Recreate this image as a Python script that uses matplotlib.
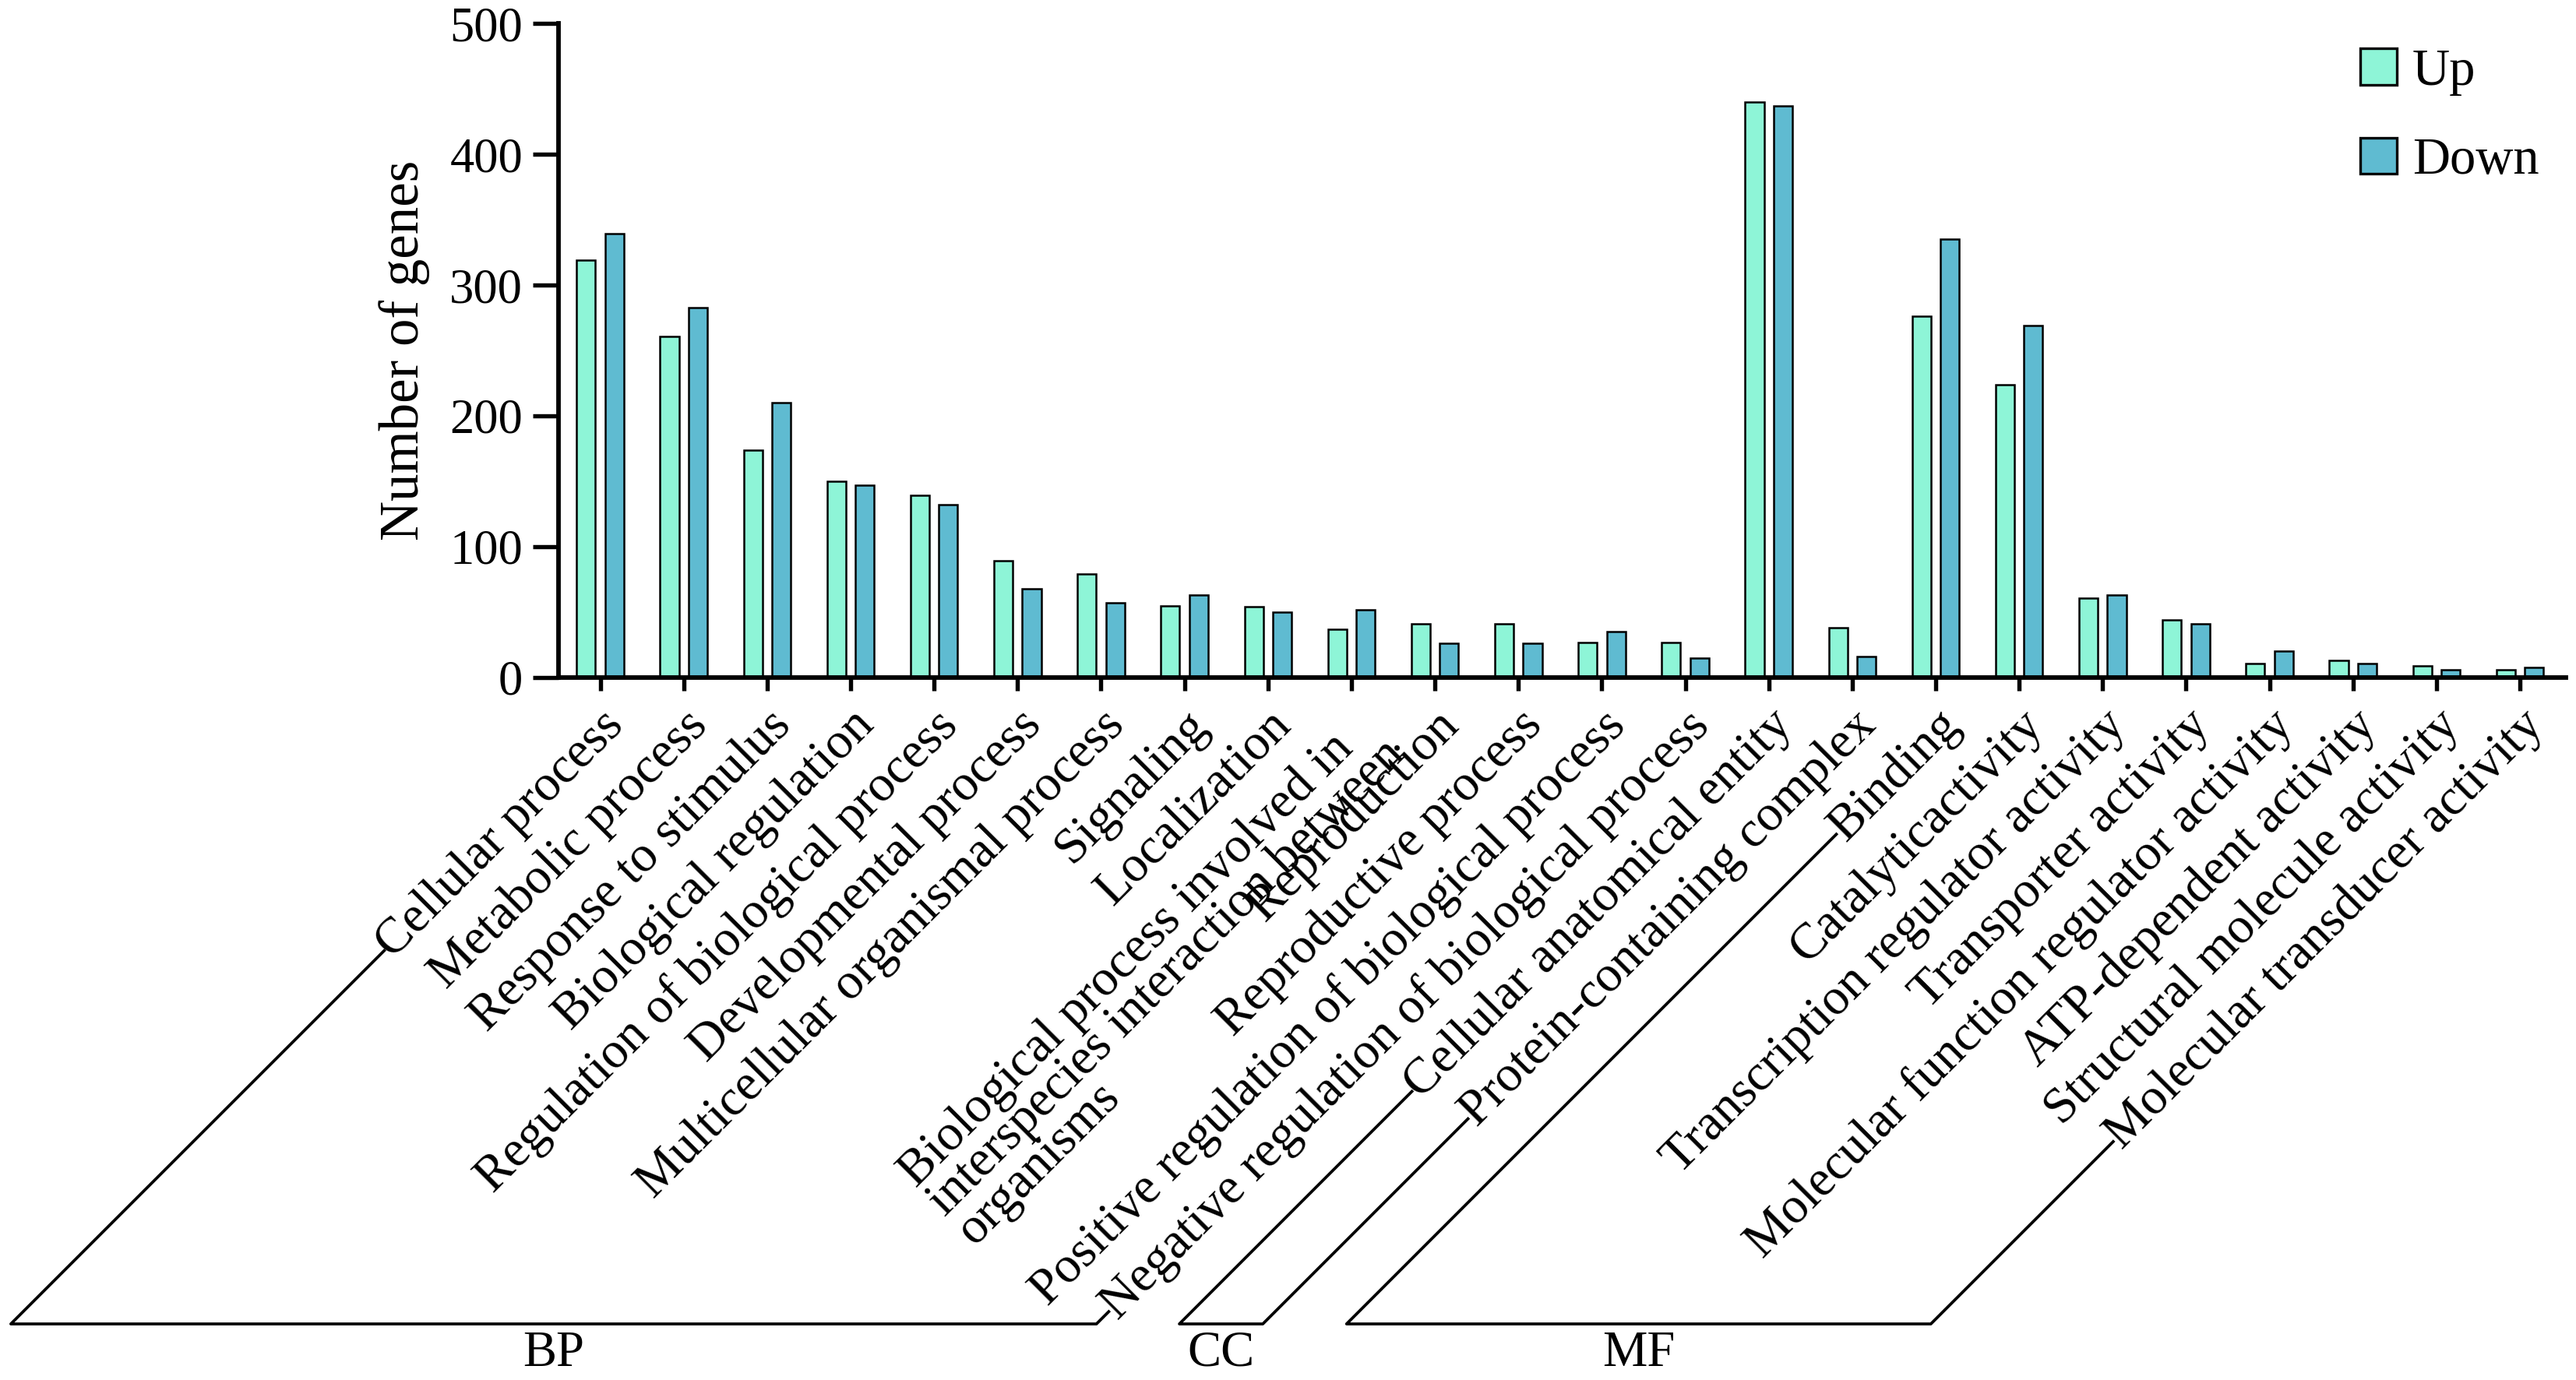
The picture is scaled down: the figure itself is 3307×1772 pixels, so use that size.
import matplotlib
matplotlib.use('Agg')
import matplotlib.pyplot as plt
from matplotlib.patches import Patch
from matplotlib.lines import Line2D
import numpy as np

# GO terms (x axis order)
categories = [
    'Cellular process', 'Metabolic process', 'Response to stimulus',
    'Biological regulation', 'Regulation of biological process',
    'Developmental process', 'Multicellular organismal process',
    'Signaling', 'Localization',
    'Biological process involved in\ninterspecies interaction between\norganisms',
    'Reproduction', 'Reproductive process',
    'Positive regulation of biological process',
    'Negative regulation of biological process',
    'Cellular anatomical entity', 'Protein-containing complex',
    'Binding', 'Catalyticactivity', 'Transcription regulator activity',
    'Transporter activity', 'Molecular function regulator activity',
    'ATP-dependent activity', 'Structural molecule activity',
    'Molecular transducer activity',
]
up_counts = [319, 261, 174, 150, 139, 89, 79, 55, 54, 37, 41, 41, 27, 27,
             440, 38, 276, 224, 61, 44, 11, 13, 9, 6]
down_counts = [339, 283, 210, 147, 132, 68, 57, 63, 50, 52, 26, 26, 35, 15,
               437, 16, 335, 269, 63, 41, 20, 11, 6, 8]
# (name, first index, last index)
groups = [('BP', 0, 13), ('CC', 14, 15), ('MF', 16, 23)]

UP_COLOR = '#8EF5D7'
DOWN_COLOR = '#5FBBD1'

plt.rcParams['font.family'] = ['Liberation Serif', 'DejaVu Serif']

W, H = 3307, 1772
fig = plt.figure(figsize=(W / 300, H / 300), dpi=300)
ax = fig.add_axes([717 / W, 1 - 870 / H, (3294 - 717) / W, 840 / H])

x = np.arange(len(categories))
ax.bar(x - 0.17, up_counts, 0.225, color=UP_COLOR, edgecolor='black', linewidth=0.6)
ax.bar(x + 0.17, down_counts, 0.225, color=DOWN_COLOR, edgecolor='black', linewidth=0.6)

ax.set_xlim(-0.5, 23.55)
ax.set_ylim(0, 500)
ax.set_yticks([0, 100, 200, 300, 400, 500])
ax.spines[['top', 'right']].set_visible(False)
ax.spines[['left', 'bottom']].set_linewidth(1.4)
ax.tick_params(axis='y', length=8, width=1.3, labelsize=15, pad=3)
ax.tick_params(axis='x', length=4, width=1.3, pad=3.5)

ax.set_xticks(x)
ax.set_xticklabels(categories, rotation=45, ha='right', va='top',
                   rotation_mode='anchor', fontsize=15.7)
for lab in ax.get_xticklabels():
    lab.set_multialignment('left')
    if '\n' in lab.get_text():
        lab.set_linespacing(0.85)

ax.set_ylabel('Number of genes', fontsize=17)
ax.yaxis.set_label_coords(-0.064, 0.5)

handles = [Patch(facecolor=UP_COLOR, edgecolor='black', linewidth=0.8),
           Patch(facecolor=DOWN_COLOR, edgecolor='black', linewidth=0.8)]
fig.legend(handles, ['Up', 'Down'], loc='upper left',
           bbox_to_anchor=(3030 / W, 1 - 62 / H), frameon=False, fontsize=16,
           handlelength=0.7, handleheight=0.7, handletextpad=0.3,
           labelspacing=0.8, borderpad=0, borderaxespad=0)

# group brackets under the rotated labels
fig.canvas.draw()
renderer = fig.canvas.get_renderer()
labels = ax.get_xticklabels()
c = s = np.sqrt(0.5)
line_y = H - 1700  # display px from bottom


def label_start(lab):
    # unrotated size of the label, then walk back from its anchor
    tmp = fig.text(0, 0, lab.get_text(), fontsize=lab.get_fontsize())
    bb = tmp.get_window_extent(renderer)
    tmp.remove()
    L, Ht = bb.width, bb.height
    ax_, ay_ = lab.get_transform().transform(lab.get_position())
    return ax_ - L * c + Ht / 2 * s, ay_ - L * s - Ht / 2 * c


inv = fig.transFigure.inverted()
for name, i0, i1 in groups:
    x0, y0 = label_start(labels[i0])
    x1, y1 = label_start(labels[i1])
    bx0 = x0 - (y0 - line_y)
    bx1 = x1 - (y1 - line_y)
    pts = inv.transform([(x0, y0), (bx0, line_y), (bx1, line_y), (x1, y1)])
    fig.add_artist(Line2D(pts[:, 0], pts[:, 1], transform=fig.transFigure,
                          color='black', linewidth=0.9))
    cx = inv.transform([((bx0 + bx1) / 2, 0)])[0, 0]
    fig.text(cx, 34 / H, name, ha='center', va='center', fontsize=15.5)

fig.savefig('out.png', dpi=300)
